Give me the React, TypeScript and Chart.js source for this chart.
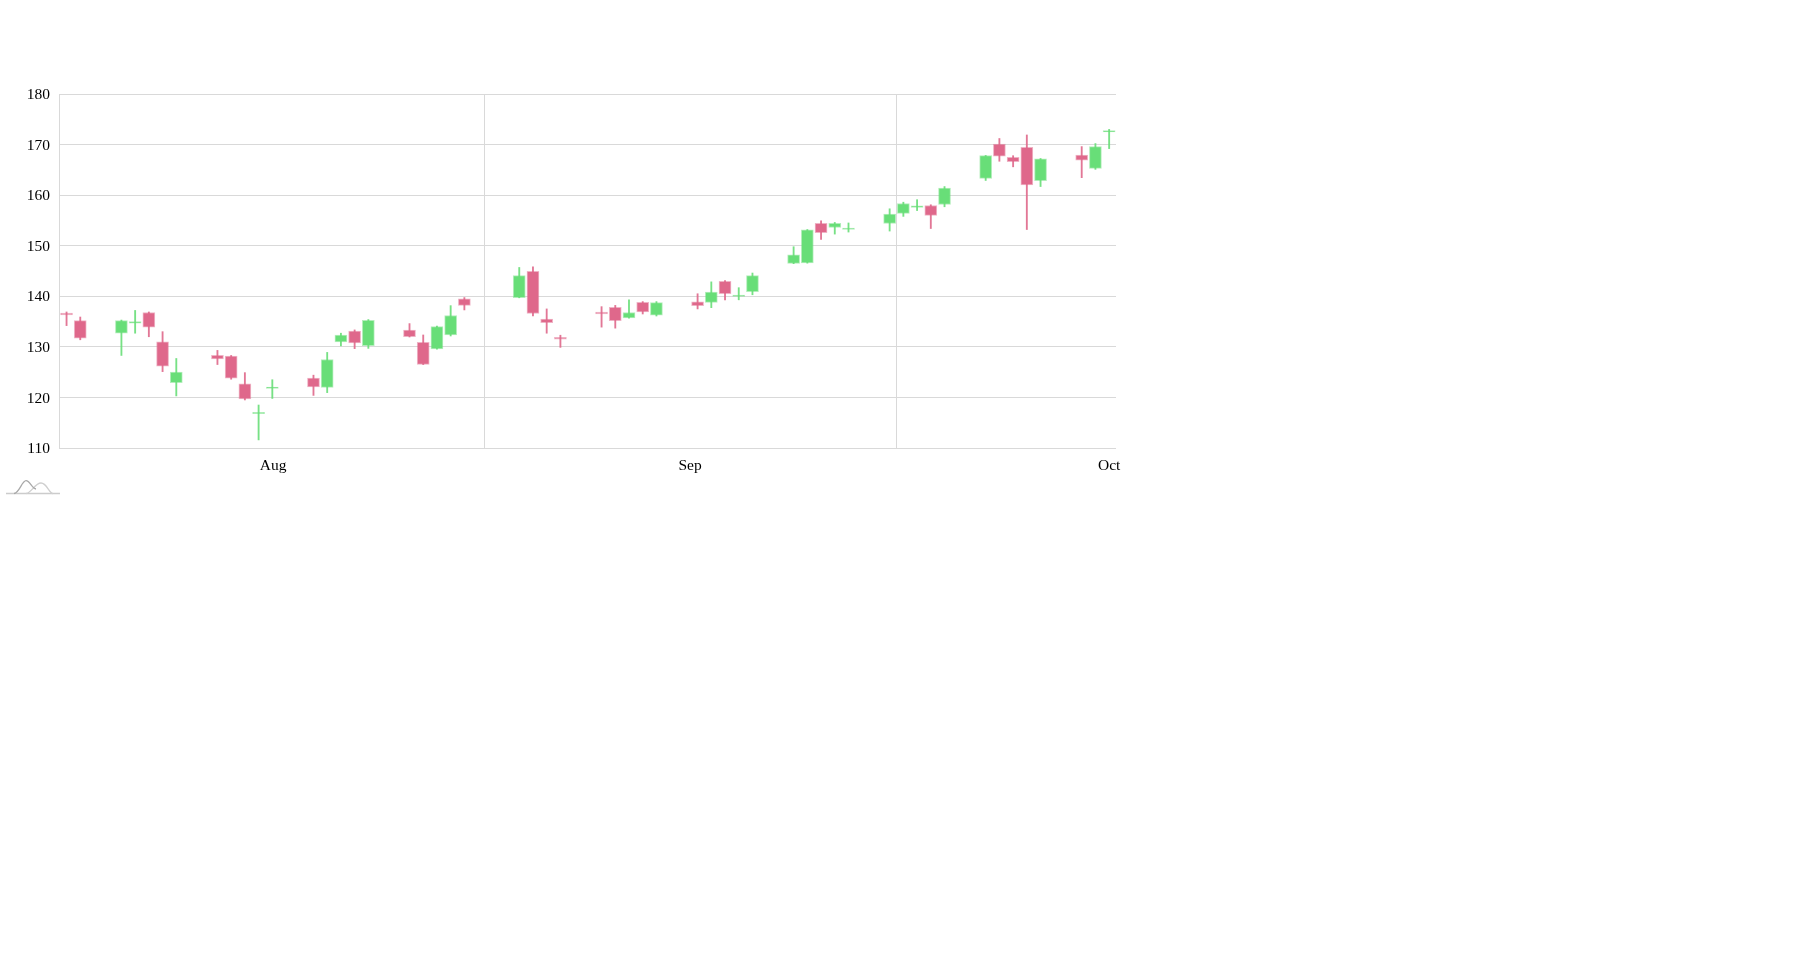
import React, { useEffect, useRef } from 'react';
import { Chart, registerables } from 'chart.js';

Chart.register(...registerables);

// ---- data (trading days, OHLC) ----
const dates = [
  '2025-07-17', '2025-07-18', '2025-07-21', '2025-07-22', '2025-07-23', '2025-07-24', '2025-07-25',
  '2025-07-28', '2025-07-29', '2025-07-30', '2025-07-31', '2025-08-01',
  '2025-08-04', '2025-08-05', '2025-08-06', '2025-08-07', '2025-08-08',
  '2025-08-11', '2025-08-12', '2025-08-13', '2025-08-14', '2025-08-15',
  '2025-08-19', '2025-08-20', '2025-08-21', '2025-08-22',
  '2025-08-25', '2025-08-26', '2025-08-27', '2025-08-28', '2025-08-29',
  '2025-09-01', '2025-09-02', '2025-09-03', '2025-09-04', '2025-09-05',
  '2025-09-08', '2025-09-09', '2025-09-10', '2025-09-11', '2025-09-12',
  '2025-09-15', '2025-09-16', '2025-09-17', '2025-09-18', '2025-09-19',
  '2025-09-22', '2025-09-23', '2025-09-24', '2025-09-25', '2025-09-26',
  '2025-09-29', '2025-09-30', '2025-10-01',
];
const opens = [
  136.7, 135.2, 132.7, 134.7, 136.8, 131.0, 122.9,
  128.3, 128.2, 122.7, 116.8, 121.8,
  123.85, 122.0, 131.0, 133.1, 130.25,
  133.3, 130.9, 129.6, 132.35, 139.5,
  139.75, 144.95, 135.5, 131.9,
  136.9, 137.8, 135.7, 138.8, 136.25,
  138.9, 138.8, 142.95, 139.95, 140.9,
  146.5, 146.6, 154.45, 153.6, 153.2,
  154.4, 156.4, 157.55, 157.95, 158.15,
  163.3, 170.1, 167.5, 169.45, 162.85,
  167.9, 165.3, 172.5,
];
const highs = [
  136.9, 135.9, 135.3, 137.2, 136.9, 133.0, 127.7,
  129.3, 128.3, 124.9, 118.5, 123.5,
  124.4, 128.9, 132.7, 133.35, 135.4,
  134.6, 132.35, 134.1, 138.15, 139.75,
  145.7, 145.8, 137.5, 132.3,
  137.95, 138.2, 139.3, 138.95, 138.95,
  140.5, 142.85, 143.1, 141.7, 144.6,
  149.8, 153.2, 154.9, 154.6, 154.5,
  157.3, 158.6, 159.1, 158.1, 161.7,
  167.85, 171.2, 167.8, 171.9, 167.25,
  169.6, 170.2, 173.0,
];
const lows = [
  134.2, 131.4, 128.3, 132.7, 132.0, 125.1, 120.3,
  126.5, 123.6, 119.5, 111.6, 119.8,
  120.4, 120.95, 130.2, 129.65, 129.7,
  131.95, 126.5, 129.55, 132.15, 137.3,
  139.7, 136.1, 132.7, 129.9,
  133.9, 133.7, 135.65, 136.5, 136.1,
  137.5, 137.75, 139.3, 139.3, 140.3,
  146.45, 146.55, 151.25, 152.3, 152.7,
  152.9, 155.8, 156.95, 153.4, 157.7,
  162.9, 166.7, 165.6, 153.2, 161.7,
  163.45, 165.1, 169.2,
];
const closes = [
  136.3, 131.7, 135.2, 135.0, 133.9, 126.2, 125.0,
  127.6, 123.8, 119.7, 117.05, 122.05,
  122.1, 127.5, 132.35, 130.8, 135.25,
  132.0, 126.55, 134.0, 136.2, 138.2,
  144.1, 136.6, 134.8, 131.5,
  136.5, 135.2, 136.8, 136.9, 138.75,
  138.15, 140.85, 140.5, 140.25, 144.1,
  148.2, 153.15, 152.6, 154.45, 153.5,
  156.25, 158.35, 157.9, 156.0, 161.4,
  167.8, 167.7, 166.6, 162.0, 167.2,
  166.9, 169.6, 172.75,
];

// x axis (days counted from 1 Aug 2025)
const xTickLabels = ['Aug', 'Sep', 'Oct'];
const xTickDays = [0.06, 30.45, 61.0];
const xGridDays = [15.45, 45.53];
const X_MIN = -15.55;
const X_MAX = 61.5;

// y axis
const Y_MIN = 110;
const Y_MAX = 180;
const Y_STEP = 10;

const GREEN = 'rgb(104, 222, 120)';
const GREEN_EDGE = 'rgba(104, 222, 120, 0.5)';
const RED = 'rgb(223, 104, 139)';
const RED_EDGE = 'rgba(223, 104, 139, 0.5)';
const GREEN_WICK = 'rgba(104, 222, 120, 0.9)';
const RED_WICK = 'rgba(223, 104, 139, 0.9)';
const GRID = '#d9d9d9';
const FONT = { family: "'Liberation Serif', 'Times New Roman', serif", size: 15.5 };

export default function App() {
  const ref = useRef<HTMLCanvasElement>(null);

  useEffect(() => {
    if (!ref.current) return;
    const base = Date.UTC(2025, 7, 1);
    const days = dates.map((d) => (Date.parse(d + 'T00:00:00Z') - base) / 86400000);
    const up = closes.map((c, i) => c >= opens[i]);

    const chart = new Chart(ref.current, {
      type: 'bar',
      data: {
        datasets: [
          {
            label: 'body',
            data: days.map((x, i) => ({ x, y: [opens[i], closes[i]] })) as any,
            backgroundColor: up.map((u) => (u ? GREEN : RED)),
            borderColor: up.map((u) => (u ? GREEN_EDGE : RED_EDGE)),
            borderWidth: 1,
            borderSkipped: false,
            barThickness: 12,
            grouped: false,
          } as any,
          {
            label: 'wick',
            data: days.map((x, i) => ({ x, y: [lows[i], highs[i]] })) as any,
            backgroundColor: up.map((u) => (u ? GREEN_WICK : RED_WICK)),
            borderWidth: 0,
            barThickness: 1.2,
            grouped: false,
          } as any,
        ],
      },
      options: {
        animation: false,
        responsive: true,
        maintainAspectRatio: false,
        layout: { padding: { top: 94, left: 0, right: 14, bottom: 0 } },
        plugins: { legend: { display: false }, tooltip: { enabled: false } },
        scales: {
          x: {
            type: 'linear',
            min: X_MIN,
            max: X_MAX,
            offset: false,
            afterBuildTicks: (s: any) => {
              s.ticks = [...xTickDays, ...xGridDays].sort((a, b) => a - b).map((v) => ({ value: v }));
            },
            afterFit: (s: any) => {
              s.height = 52;
            },
            ticks: {
              autoSkip: false,
              maxRotation: 0,
              minRotation: 0,
              padding: 9,
              color: '#000',
              font: FONT,
              callback: (v: any) => {
                const i = xTickDays.indexOf(Number(v));
                return i >= 0 ? xTickLabels[i] : '';
              },
            },
            grid: {
              drawTicks: false,
              offset: false,
              color: (ctx: any) =>
                ctx.tick && xGridDays.includes(ctx.tick.value) ? GRID : 'rgba(0,0,0,0)',
            },
            border: { display: false },
          } as any,
          y: {
            min: Y_MIN,
            max: Y_MAX,
            afterFit: (s: any) => {
              s.width = 59;
            },
            ticks: { stepSize: Y_STEP, padding: 9, labelOffset: 1, color: '#000', font: FONT },
            grid: { drawTicks: false, color: GRID },
            border: { display: true, color: GRID },
          },
        },
      },
    });
    return () => chart.destroy();
  }, []);

  return (
    <div style={{ position: 'absolute', left: 0, top: 0, width: 1820, height: 980 }}>
      <div style={{ position: 'absolute', left: 0, top: 0, width: 1130, height: 500 }}>
        <canvas ref={ref} />
      </div>
      <svg
        width={70}
        height={30}
        style={{ position: 'absolute', left: 0, top: 470 }}
        viewBox="0 0 70 30"
      >
        <path d="M6 23.5 H60" stroke="#cccccc" strokeWidth={1.5} fill="none" />
        <path
          d="M26 23.5 C31 23.5 35 13 41 13 C47 13 49 23.5 53 23.5"
          stroke="#cfcfcf"
          strokeWidth={1.3}
          fill="none"
        />
        <path
          d="M14 23.5 C19 23.5 22 10.7 26 10.7 C30 10.7 32 18.5 36 19"
          stroke="#a8a8a8"
          strokeWidth={1.3}
          fill="none"
        />
      </svg>
    </div>
  );
}
